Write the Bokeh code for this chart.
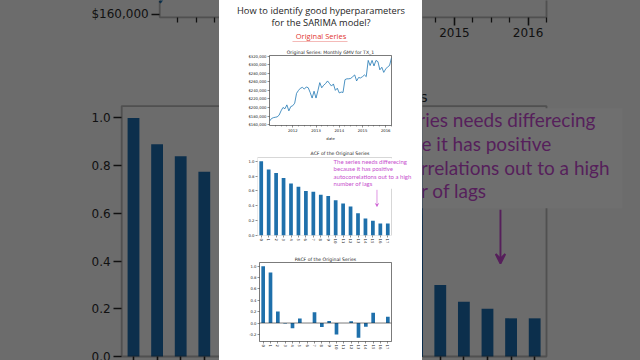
import pandas as pd
from bokeh.plotting import figure
from bokeh.layouts import row, column
from bokeh.models import (Range1d, FixedTicker, Label, Span, Arrow, VeeHead, LinearAxis,
                          NumeralTickFormatter, PrintfTickFormatter, BoxAnnotation, ColumnDataSource)
from bokeh.embed import file_html
from bokeh.resources import INLINE

# ---------------- data ----------------
gmv_dates = pd.date_range("2011-01-01", periods=64, freq="MS")
gmv_values = [168000, 174000, 176000, 177000, 178000, 182000, 192000, 200000, 197000, 206000, 192000, 202000,
              204000, 210000, 233000, 240000, 245000, 247000, 243000, 248000, 246000, 235000, 222000, 238000,
              222000, 240000, 258000, 246000, 252000, 256000, 262000, 256000, 250000, 255000, 240000, 245000,
              234000, 236000, 235000, 265000, 267000, 267000, 268000, 272000, 276000, 262000, 270000, 269000,
              272000, 276000, 272000, 310000, 298000, 310000, 297000, 310000, 307000, 288000, 294000, 282000,
              290000, 295000, 298000, 316000]
acf_lags = list(range(18))
acf_values = [1.0, 0.89, 0.84, 0.775, 0.70, 0.655, 0.60, 0.59, 0.55, 0.53, 0.475, 0.43,
              0.39, 0.30, 0.23, 0.20, 0.16, 0.16]
pacf_values = [1.0, 0.89, 0.205, -0.01, -0.09, 0.08, 0.0, 0.19, -0.07, 0.035, -0.20, 0.0,
               0.03, -0.26, -0.065, 0.18, 0.0, 0.11]
year_ticks = [2012, 2013, 2014, 2015, 2016]
gmv_ticks = [160000, 180000, 200000, 220000, 240000, 260000, 280000, 300000, 320000]
acf_ticks = [0.0, 0.2, 0.4, 0.6, 0.8, 1.0]
pacf_ticks = [-0.2, 0.0, 0.2, 0.4, 0.6, 0.8, 1.0]

title_lines = ["How to identify good hyperparameters", "for the SARIMA model?"]
section_label = "Original Series"
line_title = "Original Series: Monthly GMV for TX_1"
line_xlabel = "date"
acf_title = "ACF of the Original Series"
pacf_title = "PACF of the Original Series"
note_text = ("The series needs differecing\nbecause it has positive\n"
             "autocorrelations out to a high\nnumber of lags")


def ms(t):
    return pd.Timestamp(t).value / 1e6


gmv_x = [ms(d) for d in gmv_dates]
year_x = [ms(f"{y}-01-01") for y in year_ticks]
year_labels = {x: str(y) for x, y in zip(year_x, year_ticks)}
quarter_x = [ms(d) for d in pd.date_range("2011-01-01", "2016-04-01", freq="QS") if d.month != 1]

line_src = ColumnDataSource(dict(x=gmv_x, y=gmv_values))
acf_src = ColumnDataSource(dict(x=acf_lags, y=acf_values))
pacf_src = ColumnDataSource(dict(x=acf_lags, y=pacf_values))

# ---------------- style ----------------
GRAY_BG = "#6c6c6c"
BAR = "#1f70ab"
BAR_DK = "#0c2f4c"
INK = "#222222"
INK_DK = "#111111"
NOTE = "#c74fce"
NOTE_DK = "#561f5b"
RED = "#df3631"
TICK_FONT = "DejaVu Sans"

CX0, CW = 219, 203          # centre panel
RX0 = CX0 + CW              # right background starts
S = 3.17                    # background magnification
GMV_Y = (157800, 321500)


def axis_style(ax, font_px, tick_out, color, standoff, lw, show_labels=True):
    ax.major_label_text_font = TICK_FONT
    ax.major_label_text_font_size = f"{font_px}px"
    ax.major_label_text_color = color if show_labels else None
    ax.major_tick_out = tick_out
    ax.major_tick_in = 0
    ax.major_tick_line_color = color
    ax.major_tick_line_width = lw
    ax.minor_tick_line_color = None
    ax.axis_line_color = None
    ax.major_label_standoff = standoff


def year_axis(ax, tick_out, lw, color):
    ax.ticker = FixedTicker(ticks=year_x, minor_ticks=quarter_x)
    ax.major_label_overrides = year_labels
    ax.minor_tick_line_color = color
    ax.minor_tick_line_width = lw * 0.8
    ax.minor_tick_out = max(1, round(tick_out * 0.57))
    ax.minor_tick_in = 0


def base_fig(w, h, xr, yr, borders, fill, **kw):
    l, r, t, b = borders
    p = figure(width=w, height=h, x_range=xr, y_range=yr, min_border_left=l, min_border_right=r,
               min_border_top=t, min_border_bottom=b, toolbar_location=None, output_backend="svg",
               **kw)
    p.frame_align = False
    p.background_fill_color = fill
    p.border_fill_color = fill
    p.styles = {"background-color": fill}
    p.grid.visible = False
    return p


def center_fig(y0, h, borders, xr, yr, title, outline=True):
    l, r, t, b = borders
    p = base_fig(CW, h, xr, yr, borders, "white", title=title)
    p.outline_line_color = INK if outline else None
    p.outline_line_width = 0.6
    p.title.align = "center"
    p.title.text_font = TICK_FONT
    p.title.text_font_size = "4.6px"
    p.title.text_font_style = "normal"
    p.title.text_color = INK
    p.title.standoff = 2
    spec = dict(L=CX0 + l, R=CX0 + CW - r, T=y0 + t, B=y0 + h - b,
                x0=xr.start, x1=xr.end, y0=yr.start, y1=yr.end)
    return p, spec


# ---------------- centre: header ----------------
HEAD_H = 44
head = base_fig(CW, HEAD_H, Range1d(0, CW), Range1d(0, HEAD_H), (0, 0, 0, 0), "white",
                x_axis_location=None, y_axis_location=None)
head.outline_line_color = None
for i, txt in enumerate(title_lines):
    head.add_layout(Label(x=CW / 2, y=HEAD_H - (9.5 + 12 * i), text=txt, text_align="center",
                          text_baseline="middle", text_font="Open Sans", text_font_size="9.3px",
                          text_color="#1e1e1e"))
head.add_layout(Label(x=CW / 2, y=HEAD_H - 35, text=section_label, text_align="center",
                      text_baseline="middle", text_font="Open Sans", text_font_size="7.5px",
                      text_color=RED))
head.add_layout(BoxAnnotation(left=73, right=128, bottom=HEAD_H - 41.2, top=HEAD_H - 40.4,
                              fill_color="#f0a3a0", fill_alpha=1, line_color=None))

# ---------------- centre: line chart ----------------
LINE_Y0, LINE_H = 44, 99
pl, line_spec = center_fig(LINE_Y0, LINE_H, (50, 31, 11, 14), Range1d(gmv_x[0], gmv_x[-1]),
                           Range1d(*GMV_Y), line_title)
pl.line("x", "y", source=line_src, line_color="#1f77b4", line_width=0.8)
for ax in pl.axis:
    axis_style(ax, 3.8, 2, INK, 1, 0.5)
year_axis(pl.xaxis[0], 2, 0.5, INK)
pl.xaxis.axis_label = line_xlabel
pl.xaxis.axis_label_text_font = TICK_FONT
pl.xaxis.axis_label_text_font_size = "3.8px"
pl.xaxis.axis_label_text_font_style = "normal"
pl.xaxis.axis_label_text_color = INK
pl.xaxis.axis_label_standoff = 1
pl.yaxis.ticker = FixedTicker(ticks=gmv_ticks)
pl.yaxis.formatter = NumeralTickFormatter(format="$0,0")

# ---------------- centre: ACF (frame widened so the note box can overhang) ----------------
ACF_Y0, ACF_H = 143, 103
ACF_L, ACF_T, ACF_B = 38, 13, 10
acf_px_x = (CW - 31 - ACF_L) / 18.0             # px per lag of the visible box
acf_px_y = (ACF_H - ACF_T - 1 - ACF_B) / 1.05   # px per unit
pa, acf_spec = center_fig(ACF_Y0, ACF_H, (ACF_L, 0, ACF_T, ACF_B),
                          Range1d(-0.5, -0.5 + (CW - ACF_L) / acf_px_x),
                          Range1d(0, 1.05 + 1 / acf_px_y), acf_title, outline=False)
pa.vbar(x="x", top="y", width=0.5, source=acf_src, fill_color=BAR, line_color=None)
pa.add_layout(BoxAnnotation(left=-0.5, right=17.5, bottom=0, top=1.05, fill_alpha=0,
                            line_color=INK, line_width=0.6))
for ax in pa.axis:
    axis_style(ax, 3.8, 2, INK, 1, 0.5)
pa.xaxis.ticker = FixedTicker(ticks=acf_lags)
pa.xaxis.major_label_orientation = "vertical"
pa.yaxis.ticker = FixedTicker(ticks=acf_ticks)
pa.yaxis.formatter = PrintfTickFormatter(format="%.1f")

NOTE_X, NOTE_Y = 9.32, 1.041          # note position in ACF data units
ARROW_X, ARROW_Y0, ARROW_Y1 = 15.55, 0.615, 0.39


def add_note(p, k, txt_color, fill, shadow, font_px):
    pad = dict(left=round(3 * k), right=round(4 * k), top=0, bottom=round(2 * k))
    common = dict(x=NOTE_X, y=NOTE_Y, text=note_text, text_align="left", text_baseline="top",
                  text_font="Lato", text_font_size=f"{font_px}px", text_line_height=1.03,
                  padding=pad)
    p.add_layout(Label(**common, text_alpha=0, background_fill_color=shadow,
                       y_offset=-max(1, round(0.6 * k))))
    p.add_layout(Label(**common, text_color=txt_color, background_fill_color=fill))
    p.add_layout(Arrow(x_start=ARROW_X, y_start=ARROW_Y0, x_end=ARROW_X, y_end=ARROW_Y1,
                       line_color=txt_color, line_width=0.6 * k,
                       end=VeeHead(size=3 * k, line_color=txt_color, line_width=0.6 * k,
                                   fill_color=txt_color)))


add_note(pa, 1, NOTE, "white", "#c4c4c4", 6)

# ---------------- centre: PACF ----------------
PACF_Y0, PACF_H = 246, 114
pp, pacf_spec = center_fig(PACF_Y0, PACF_H, (40, 31, 16, 19), Range1d(-0.5, 17.5),
                           Range1d(-0.325, 1.065), pacf_title)
pp.vbar(x="x", top="y", width=0.5, source=pacf_src, fill_color=BAR, line_color=None)
pp.add_layout(Span(location=0, dimension="width", line_color=INK, line_width=0.6))
for ax in pp.axis:
    axis_style(ax, 3.8, 2, INK, 1, 0.5)
pp.xaxis.ticker = FixedTicker(ticks=acf_lags)
pp.xaxis.major_label_orientation = "vertical"
pp.yaxis.ticker = FixedTicker(ticks=pacf_ticks)
pp.yaxis.formatter = PrintfTickFormatter(format="%.1f")

# ---------------- background (magnified copy of the centre) ----------------
AX = acf_spec["L"] + 0.5 * acf_px_x      # centre px of lag 0
AY = acf_spec["B"]                       # centre px of value 0
BOX, BOY = 133.0, 356.0                  # where they sit in the background


def data_x(spec, g):
    c = AX + (g - BOX) / S
    return spec["x0"] + (c - spec["L"]) / (spec["R"] - spec["L"]) * (spec["x1"] - spec["x0"])


def data_y(spec, g):
    c = AY + (g - BOY) / S
    return spec["y0"] + (spec["B"] - c) / (spec["B"] - spec["T"]) * (spec["y1"] - spec["y0"])


def bg_canvas(cx0, cx1):
    p = base_fig(cx1 - cx0, 360,
                 Range1d(data_x(acf_spec, cx0), data_x(acf_spec, cx1)),
                 Range1d(data_y(acf_spec, 360), data_y(acf_spec, 0)),
                 (0, 0, 0, 0), GRAY_BG, x_axis_location=None, y_axis_location=None)
    p.outline_line_color = None
    p.extra_x_ranges = {"lx": Range1d(data_x(line_spec, cx0), data_x(line_spec, cx1))}
    p.extra_y_ranges = {"ly": Range1d(data_y(line_spec, 360), data_y(line_spec, 0))}
    p.vbar(x="x", top="y", width=0.5, source=acf_src, fill_color=BAR_DK, line_color=None)
    p.line("x", "y", source=line_src, line_color="#0d3452", line_width=2.6,
           x_range_name="lx", y_range_name="ly")
    p.add_layout(BoxAnnotation(left=-0.5, right=17.5, bottom=0, top=1.05, fill_alpha=0,
                               line_color=INK_DK, line_width=1.8))
    p.add_layout(BoxAnnotation(left=gmv_x[0], right=gmv_x[-1], bottom=GMV_Y[0], top=GMV_Y[1],
                               fill_alpha=0, line_color=INK_DK, line_width=1.8,
                               x_range_name="lx", y_range_name="ly"))
    return p


def bg_axis(p, side, ticks, fixed, line=False, fmt=None, tick_out=8, labels=True, years=False):
    kw = dict(x_range_name="lx", y_range_name="ly") if line else {}
    ax = LinearAxis(ticker=FixedTicker(ticks=ticks), fixed_location=fixed, **kw)
    axis_style(ax, 12 if labels else 1, tick_out, INK_DK, 3 if labels else 0, 1.6,
               show_labels=labels)
    if years:
        year_axis(ax, tick_out, 1.6, INK_DK)
    if fmt is not None:
        ax.formatter = fmt
    p.add_layout(ax, side)


# left background
bl = bg_canvas(0, CX0)
bg_axis(bl, "left", gmv_ticks, gmv_x[0], line=True, fmt=NumeralTickFormatter(format="$0,0"))
bg_axis(bl, "below", year_x, GMV_Y[0], line=True, years=True)
bg_axis(bl, "left", acf_ticks, -0.5, fmt=PrintfTickFormatter(format="%.1f"))
bg_axis(bl, "below", acf_lags, 0, tick_out=4, labels=False)

# right background
br = bg_canvas(RX0, 640)
bg_axis(br, "below", year_x, GMV_Y[0], line=True, years=True)
bg_axis(br, "below", acf_lags, 0, tick_out=4, labels=False)
br.add_layout(Label(x=8.5, y=1.05, y_offset=10, text=acf_title, text_align="center",
                    text_baseline="alphabetic", text_font=TICK_FONT, text_font_size="14.6px",
                    text_color=INK_DK))
add_note(br, S, NOTE_DK, "#6f6f6f", "#505050", 19)

mid_col = column(head, pl, pa, pp, spacing=0, styles={"background-color": "white"})
root = row(bl, mid_col, br, spacing=0)

open("out.html", "w").write(file_html(root, INLINE))
